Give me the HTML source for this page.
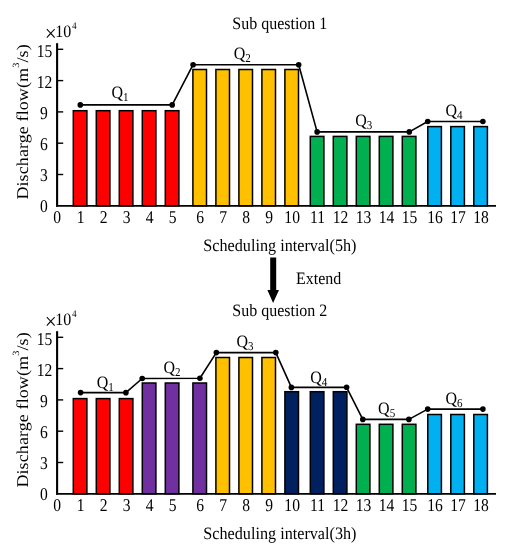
<!DOCTYPE html>
<html lang="en">
<head>
<meta charset="utf-8">
<title>Sub question scheduling intervals</title>
<style>
html,body{margin:0;padding:0;background:#fff;}
body{width:510px;height:550px;overflow:hidden;font-family:"Liberation Serif","Times New Roman",serif;}
svg{display:block;}
text{white-space:pre;}
</style>
</head>
<body>
<svg width="510" height="550" viewBox="0 0 510 550" text-rendering="geometricPrecision" font-family="'Liberation Serif', 'Times New Roman', serif" fill="#000">
<rect width="510" height="550" fill="#fff"/>
<g transform="translate(0,0)">
<rect x="73.30" y="110.70" width="13.6" height="95.10" fill="#ff0000" stroke="#000" stroke-width="1.5"/>
<rect x="96.30" y="110.70" width="13.6" height="95.10" fill="#ff0000" stroke="#000" stroke-width="1.5"/>
<rect x="119.30" y="110.70" width="13.6" height="95.10" fill="#ff0000" stroke="#000" stroke-width="1.5"/>
<rect x="142.30" y="110.70" width="13.6" height="95.10" fill="#ff0000" stroke="#000" stroke-width="1.5"/>
<rect x="165.30" y="110.70" width="13.6" height="95.10" fill="#ff0000" stroke="#000" stroke-width="1.5"/>
<rect x="192.90" y="69.50" width="13.6" height="136.30" fill="#ffc000" stroke="#000" stroke-width="1.5"/>
<rect x="215.90" y="69.50" width="13.6" height="136.30" fill="#ffc000" stroke="#000" stroke-width="1.5"/>
<rect x="238.90" y="69.50" width="13.6" height="136.30" fill="#ffc000" stroke="#000" stroke-width="1.5"/>
<rect x="261.90" y="69.50" width="13.6" height="136.30" fill="#ffc000" stroke="#000" stroke-width="1.5"/>
<rect x="284.90" y="69.50" width="13.6" height="136.30" fill="#ffc000" stroke="#000" stroke-width="1.5"/>
<rect x="310.30" y="136.40" width="13.6" height="69.40" fill="#00b050" stroke="#000" stroke-width="1.5"/>
<rect x="333.30" y="136.40" width="13.6" height="69.40" fill="#00b050" stroke="#000" stroke-width="1.5"/>
<rect x="356.30" y="136.40" width="13.6" height="69.40" fill="#00b050" stroke="#000" stroke-width="1.5"/>
<rect x="379.30" y="136.40" width="13.6" height="69.40" fill="#00b050" stroke="#000" stroke-width="1.5"/>
<rect x="402.30" y="136.40" width="13.6" height="69.40" fill="#00b050" stroke="#000" stroke-width="1.5"/>
<rect x="427.80" y="126.60" width="13.6" height="79.20" fill="#00b0f0" stroke="#000" stroke-width="1.5"/>
<rect x="450.80" y="126.60" width="13.6" height="79.20" fill="#00b0f0" stroke="#000" stroke-width="1.5"/>
<rect x="473.80" y="126.60" width="13.6" height="79.20" fill="#00b0f0" stroke="#000" stroke-width="1.5"/>
<line x1="57.1" y1="43.2" x2="57.1" y2="206.65" stroke="#000" stroke-width="2.1"/>
<line x1="56.05" y1="205.8" x2="496" y2="205.8" stroke="#000" stroke-width="1.7"/>
<line x1="57" y1="174.50" x2="63.2" y2="174.50" stroke="#000" stroke-width="1.4"/>
<line x1="57" y1="143.20" x2="63.2" y2="143.20" stroke="#000" stroke-width="1.4"/>
<line x1="57" y1="111.90" x2="63.2" y2="111.90" stroke="#000" stroke-width="1.4"/>
<line x1="57" y1="80.60" x2="63.2" y2="80.60" stroke="#000" stroke-width="1.4"/>
<line x1="57" y1="49.30" x2="63.2" y2="49.30" stroke="#000" stroke-width="1.4"/>
<text transform="translate(44.00,211.80) scale(0.865,1)" font-size="18" text-anchor="middle">0</text>
<text transform="translate(44.00,180.85) scale(0.865,1)" font-size="18" text-anchor="middle">3</text>
<text transform="translate(44.00,149.90) scale(0.865,1)" font-size="18" text-anchor="middle">6</text>
<text transform="translate(44.00,118.95) scale(0.865,1)" font-size="18" text-anchor="middle">9</text>
<text transform="translate(44.50,88.00) scale(0.865,1)" font-size="18" text-anchor="middle">12</text>
<text transform="translate(44.50,57.05) scale(0.865,1)" font-size="18" text-anchor="middle">15</text>
<text transform="translate(57.10,222.90) scale(0.865,1)" font-size="18" text-anchor="middle">0</text>
<text transform="translate(80.55,222.90) scale(0.865,1)" font-size="18" text-anchor="middle">1</text>
<text transform="translate(103.55,222.90) scale(0.865,1)" font-size="18" text-anchor="middle">2</text>
<text transform="translate(126.55,222.90) scale(0.865,1)" font-size="18" text-anchor="middle">3</text>
<text transform="translate(149.55,222.90) scale(0.865,1)" font-size="18" text-anchor="middle">4</text>
<text transform="translate(172.55,222.90) scale(0.865,1)" font-size="18" text-anchor="middle">5</text>
<text transform="translate(200.15,222.90) scale(0.865,1)" font-size="18" text-anchor="middle">6</text>
<text transform="translate(223.15,222.90) scale(0.865,1)" font-size="18" text-anchor="middle">7</text>
<text transform="translate(246.15,222.90) scale(0.865,1)" font-size="18" text-anchor="middle">8</text>
<text transform="translate(269.15,222.90) scale(0.865,1)" font-size="18" text-anchor="middle">9</text>
<text transform="translate(292.15,222.90) scale(0.865,1)" font-size="18" text-anchor="middle">10</text>
<text transform="translate(317.55,222.90) scale(0.865,1)" font-size="18" text-anchor="middle">11</text>
<text transform="translate(340.55,222.90) scale(0.865,1)" font-size="18" text-anchor="middle">12</text>
<text transform="translate(363.55,222.90) scale(0.865,1)" font-size="18" text-anchor="middle">13</text>
<text transform="translate(386.55,222.90) scale(0.865,1)" font-size="18" text-anchor="middle">14</text>
<text transform="translate(409.55,222.90) scale(0.865,1)" font-size="18" text-anchor="middle">15</text>
<text transform="translate(435.05,222.90) scale(0.865,1)" font-size="18" text-anchor="middle">16</text>
<text transform="translate(458.05,222.90) scale(0.865,1)" font-size="18" text-anchor="middle">17</text>
<text transform="translate(481.05,222.90) scale(0.865,1)" font-size="18" text-anchor="middle">18</text>
<text transform="translate(44.8,37.1) scale(0.92,1)" font-size="17.4" text-anchor="start"><tspan font-size="23" dy="3.4">×</tspan><tspan dy="-3.4" dx="-1.5">10</tspan><tspan font-size="10" dy="-8.4" dx="0.6">4</tspan></text>
<text transform="translate(28.2,199.6) rotate(-90) scale(1.09,1)" font-size="16.5" letter-spacing="0.1" text-anchor="start">Discharge flow(m<tspan font-size="9.5" dy="-8.8">3</tspan><tspan dy="8.8">/s)</tspan></text>
<polyline points="80.30,104.90 172.20,104.90 193.10,64.70 298.70,64.70 317.10,131.90 409.30,131.90 427.70,121.50 482.90,121.50" fill="none" stroke="#000" stroke-width="1.6" stroke-linejoin="round"/>
<circle cx="80.30" cy="104.90" r="2.8" fill="#000"/>
<circle cx="172.20" cy="104.90" r="2.8" fill="#000"/>
<circle cx="193.10" cy="64.70" r="2.8" fill="#000"/>
<circle cx="298.70" cy="64.70" r="2.8" fill="#000"/>
<circle cx="317.10" cy="131.90" r="2.8" fill="#000"/>
<circle cx="409.30" cy="131.90" r="2.8" fill="#000"/>
<circle cx="427.70" cy="121.50" r="2.8" fill="#000"/>
<circle cx="482.90" cy="121.50" r="2.8" fill="#000"/>
<text transform="translate(111.40,98.40) scale(0.92,1)" font-size="17.4" text-anchor="start">Q<tspan font-size="12" dy="2.9">1</tspan></text>
<text transform="translate(233.80,59.10) scale(0.92,1)" font-size="17.4" text-anchor="start">Q<tspan font-size="12" dy="2.9">2</tspan></text>
<text transform="translate(355.20,126.20) scale(0.92,1)" font-size="17.4" text-anchor="start">Q<tspan font-size="12" dy="2.9">3</tspan></text>
<text transform="translate(445.40,116.20) scale(0.92,1)" font-size="17.4" text-anchor="start">Q<tspan font-size="12" dy="2.9">4</tspan></text>
<text transform="translate(279.80,28.90) scale(0.92,1)" font-size="17.4" text-anchor="middle">Sub question 1</text>
<text transform="translate(279.90,251.00) scale(0.93,1)" font-size="17.4" text-anchor="middle">Scheduling interval(5h)</text>
</g>
<g transform="translate(0,288)">
<rect x="73.30" y="110.60" width="13.6" height="95.20" fill="#ff0000" stroke="#000" stroke-width="1.5"/>
<rect x="96.30" y="110.60" width="13.6" height="95.20" fill="#ff0000" stroke="#000" stroke-width="1.5"/>
<rect x="119.30" y="110.60" width="13.6" height="95.20" fill="#ff0000" stroke="#000" stroke-width="1.5"/>
<rect x="142.30" y="95.00" width="13.6" height="110.80" fill="#7030a0" stroke="#000" stroke-width="1.5"/>
<rect x="165.30" y="95.00" width="13.6" height="110.80" fill="#7030a0" stroke="#000" stroke-width="1.5"/>
<rect x="192.90" y="95.00" width="13.6" height="110.80" fill="#7030a0" stroke="#000" stroke-width="1.5"/>
<rect x="215.90" y="69.50" width="13.6" height="136.30" fill="#ffc000" stroke="#000" stroke-width="1.5"/>
<rect x="238.90" y="69.50" width="13.6" height="136.30" fill="#ffc000" stroke="#000" stroke-width="1.5"/>
<rect x="261.90" y="69.50" width="13.6" height="136.30" fill="#ffc000" stroke="#000" stroke-width="1.5"/>
<rect x="284.90" y="103.70" width="13.6" height="102.10" fill="#002060" stroke="#000" stroke-width="1.5"/>
<rect x="310.30" y="103.70" width="13.6" height="102.10" fill="#002060" stroke="#000" stroke-width="1.5"/>
<rect x="333.30" y="103.70" width="13.6" height="102.10" fill="#002060" stroke="#000" stroke-width="1.5"/>
<rect x="356.30" y="136.30" width="13.6" height="69.50" fill="#00b050" stroke="#000" stroke-width="1.5"/>
<rect x="379.30" y="136.30" width="13.6" height="69.50" fill="#00b050" stroke="#000" stroke-width="1.5"/>
<rect x="402.30" y="136.30" width="13.6" height="69.50" fill="#00b050" stroke="#000" stroke-width="1.5"/>
<rect x="427.80" y="126.50" width="13.6" height="79.30" fill="#00b0f0" stroke="#000" stroke-width="1.5"/>
<rect x="450.80" y="126.50" width="13.6" height="79.30" fill="#00b0f0" stroke="#000" stroke-width="1.5"/>
<rect x="473.80" y="126.50" width="13.6" height="79.30" fill="#00b0f0" stroke="#000" stroke-width="1.5"/>
<line x1="57.1" y1="43.2" x2="57.1" y2="206.65" stroke="#000" stroke-width="2.1"/>
<line x1="56.05" y1="205.8" x2="496" y2="205.8" stroke="#000" stroke-width="1.7"/>
<line x1="57" y1="174.50" x2="63.2" y2="174.50" stroke="#000" stroke-width="1.4"/>
<line x1="57" y1="143.20" x2="63.2" y2="143.20" stroke="#000" stroke-width="1.4"/>
<line x1="57" y1="111.90" x2="63.2" y2="111.90" stroke="#000" stroke-width="1.4"/>
<line x1="57" y1="80.60" x2="63.2" y2="80.60" stroke="#000" stroke-width="1.4"/>
<line x1="57" y1="49.30" x2="63.2" y2="49.30" stroke="#000" stroke-width="1.4"/>
<text transform="translate(44.00,211.80) scale(0.865,1)" font-size="18" text-anchor="middle">0</text>
<text transform="translate(44.00,180.85) scale(0.865,1)" font-size="18" text-anchor="middle">3</text>
<text transform="translate(44.00,149.90) scale(0.865,1)" font-size="18" text-anchor="middle">6</text>
<text transform="translate(44.00,118.95) scale(0.865,1)" font-size="18" text-anchor="middle">9</text>
<text transform="translate(44.50,88.00) scale(0.865,1)" font-size="18" text-anchor="middle">12</text>
<text transform="translate(44.50,57.05) scale(0.865,1)" font-size="18" text-anchor="middle">15</text>
<text transform="translate(57.10,222.90) scale(0.865,1)" font-size="18" text-anchor="middle">0</text>
<text transform="translate(80.55,222.90) scale(0.865,1)" font-size="18" text-anchor="middle">1</text>
<text transform="translate(103.55,222.90) scale(0.865,1)" font-size="18" text-anchor="middle">2</text>
<text transform="translate(126.55,222.90) scale(0.865,1)" font-size="18" text-anchor="middle">3</text>
<text transform="translate(149.55,222.90) scale(0.865,1)" font-size="18" text-anchor="middle">4</text>
<text transform="translate(172.55,222.90) scale(0.865,1)" font-size="18" text-anchor="middle">5</text>
<text transform="translate(200.15,222.90) scale(0.865,1)" font-size="18" text-anchor="middle">6</text>
<text transform="translate(223.15,222.90) scale(0.865,1)" font-size="18" text-anchor="middle">7</text>
<text transform="translate(246.15,222.90) scale(0.865,1)" font-size="18" text-anchor="middle">8</text>
<text transform="translate(269.15,222.90) scale(0.865,1)" font-size="18" text-anchor="middle">9</text>
<text transform="translate(292.15,222.90) scale(0.865,1)" font-size="18" text-anchor="middle">10</text>
<text transform="translate(317.55,222.90) scale(0.865,1)" font-size="18" text-anchor="middle">11</text>
<text transform="translate(340.55,222.90) scale(0.865,1)" font-size="18" text-anchor="middle">12</text>
<text transform="translate(363.55,222.90) scale(0.865,1)" font-size="18" text-anchor="middle">13</text>
<text transform="translate(386.55,222.90) scale(0.865,1)" font-size="18" text-anchor="middle">14</text>
<text transform="translate(409.55,222.90) scale(0.865,1)" font-size="18" text-anchor="middle">15</text>
<text transform="translate(435.05,222.90) scale(0.865,1)" font-size="18" text-anchor="middle">16</text>
<text transform="translate(458.05,222.90) scale(0.865,1)" font-size="18" text-anchor="middle">17</text>
<text transform="translate(481.05,222.90) scale(0.865,1)" font-size="18" text-anchor="middle">18</text>
<text transform="translate(44.8,37.1) scale(0.92,1)" font-size="17.4" text-anchor="start"><tspan font-size="23" dy="3.4">×</tspan><tspan dy="-3.4" dx="-1.5">10</tspan><tspan font-size="10" dy="-8.4" dx="0.6">4</tspan></text>
<text transform="translate(28.2,199.6) rotate(-90) scale(1.09,1)" font-size="16.5" letter-spacing="0.1" text-anchor="start">Discharge flow(m<tspan font-size="9.5" dy="-8.8">3</tspan><tspan dy="8.8">/s)</tspan></text>
<polyline points="80.60,104.60 125.90,104.65 142.20,90.50 199.90,90.20 216.35,64.60 275.80,64.60 291.40,99.40 346.60,99.30 362.80,131.40 408.90,131.40 427.70,121.10 482.90,121.10" fill="none" stroke="#000" stroke-width="1.6" stroke-linejoin="round"/>
<circle cx="80.60" cy="104.60" r="2.8" fill="#000"/>
<circle cx="125.90" cy="104.65" r="2.8" fill="#000"/>
<circle cx="142.20" cy="90.50" r="2.8" fill="#000"/>
<circle cx="199.90" cy="90.20" r="2.8" fill="#000"/>
<circle cx="216.35" cy="64.60" r="2.8" fill="#000"/>
<circle cx="275.80" cy="64.60" r="2.8" fill="#000"/>
<circle cx="291.40" cy="99.40" r="2.8" fill="#000"/>
<circle cx="346.60" cy="99.30" r="2.8" fill="#000"/>
<circle cx="362.80" cy="131.40" r="2.8" fill="#000"/>
<circle cx="408.90" cy="131.40" r="2.8" fill="#000"/>
<circle cx="427.70" cy="121.10" r="2.8" fill="#000"/>
<circle cx="482.90" cy="121.10" r="2.8" fill="#000"/>
<text transform="translate(96.70,99.80) scale(0.92,1)" font-size="17.4" text-anchor="start">Q<tspan font-size="12" dy="2.9">1</tspan></text>
<text transform="translate(163.50,84.60) scale(0.92,1)" font-size="17.4" text-anchor="start">Q<tspan font-size="12" dy="2.9">2</tspan></text>
<text transform="translate(236.40,59.30) scale(0.92,1)" font-size="17.4" text-anchor="start">Q<tspan font-size="12" dy="2.9">3</tspan></text>
<text transform="translate(310.30,94.70) scale(0.92,1)" font-size="17.4" text-anchor="start">Q<tspan font-size="12" dy="2.9">4</tspan></text>
<text transform="translate(378.10,126.20) scale(0.92,1)" font-size="17.4" text-anchor="start">Q<tspan font-size="12" dy="2.9">5</tspan></text>
<text transform="translate(445.40,116.10) scale(0.92,1)" font-size="17.4" text-anchor="start">Q<tspan font-size="12" dy="2.9">6</tspan></text>
<text transform="translate(279.80,28.20) scale(0.92,1)" font-size="17.4" text-anchor="middle">Sub question 2</text>
<text transform="translate(279.90,251.00) scale(0.93,1)" font-size="17.4" text-anchor="middle">Scheduling interval(3h)</text>
</g>
<polygon points="270.2,257.5 276.2,257.5 276.2,289.9 279.0,289.9 273.1,302.9 267.4,289.9 270.2,289.9" fill="#000"/>
<text transform="translate(296.00,283.60) scale(0.92,1)" font-size="17.4" text-anchor="start">Extend</text>
</svg>
</body>
</html>
